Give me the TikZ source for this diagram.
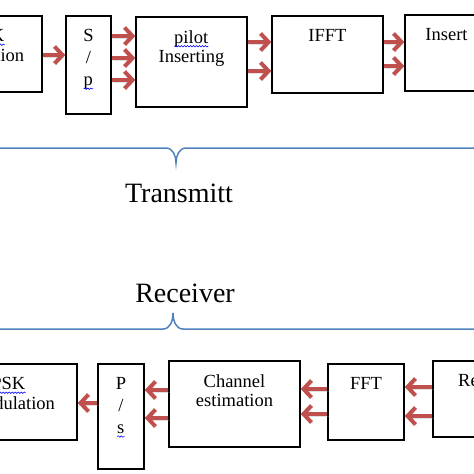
\documentclass[tikz,border=0pt]{standalone}
\usepackage{fontspec}
\setmainfont{Liberation Serif}
\usetikzlibrary{arrows.meta,decorations.pathmorphing}
\definecolor{cred}{RGB}{192,80,77}
\definecolor{cblue}{RGB}{79,129,189}
\newlength{\spellwd}
\newcommand{\spell}[1]{\settowidth{\spellwd}{#1}\rlap{#1}\tikz[baseline=0pt]
  \draw[blue,line width=0.6pt,decorate,decoration={snake,amplitude=0.7pt,segment length=3pt}]
  (0pt,-3pt) -- (\spellwd,-3pt);}

\begin{document}
\begin{tikzpicture}[x=1pt,y=-1pt,
  block/.style={draw,line width=1.5pt,inner sep=0pt},
  boxtext/.style={anchor=north,inner sep=0pt,align=center,yshift=-14pt,
    font=\fontsize{18.5}{19.5}\selectfont},
  arr/.style={-{Straight Barb[length=8pt,width=17pt]},cred,line width=4pt,
    preaction={draw=black!40,opacity=0.3,transform canvas={shift={(1.5pt,-1.8pt)}}}},
  brc/.style={cblue,line width=1.5pt},
  title/.style={font=\fontsize{28}{30}\selectfont}]
  \useasboundingbox (0,0) rectangle (474,474);

  % transmitter
  \node[block,minimum width=122pt,minimum height=76pt] (mod) at (-19,54) {};
  \node[block,minimum width=45pt,minimum height=98pt] (sp) at (88.5,65) {};
  \node[block,minimum width=111pt,minimum height=90pt] (pilot) at (191.5,62) {};
  \node[block,minimum width=111pt,minimum height=77pt] (ifft) at (327.5,54.5) {};
  \node[block,minimum width=83pt,minimum height=76pt] (ins) at (446.5,53) {};
  \node[boxtext] (modt) at (mod.north) {\spell{QPSK}\\Modulation};
  \node[boxtext] (spt) at (sp.north) {S\\[2.5pt]/\\[2.5pt]\spell{p}};
  \node[boxtext] (pilott) at (pilot.north) {\spell{pilot}\\Inserting};
  \node[boxtext] (ifftt) at (ifft.north) {IFFT};
  \node[boxtext] (inst) at (ins.north) {Insert};

  \draw[arr] (mod.east |- 0,55) -- (sp.west |- 0,55);
  \foreach \y in {36,58,80}
    \draw[arr] (sp.east |- 0,\y) -- (pilot.west |- 0,\y);
  \foreach \y in {42,71}
    \draw[arr] (pilot.east |- 0,\y) -- (ifft.west |- 0,\y);
  \foreach \y in {42,66}
    \draw[arr] (ifft.east |- 0,\y) -- (ins.west |- 0,\y);

  % braces
  \draw[brc] (0,148) -- (166,148) .. controls (173,148) and (176,156) .. (176,163)
    .. controls (176,156) and (179,148) .. (186,148) -- (474,148);
  \draw[brc] (0,329) -- (163,329) .. controls (170,329) and (173,321) .. (173,313)
    .. controls (173,321) and (176,329) .. (183,329) -- (474,329);
  \node[title] (tx) at (179,193) {Transmitt};
  \node[title] (rx) at (185,293) {Receiver};

  % receiver
  \node[block,minimum width=150pt,minimum height=76pt] (dem) at (2,402) {};
  \node[block,minimum width=46pt,minimum height=105pt] (ps) at (121,416.5) {};
  \node[block,minimum width=131pt,minimum height=86pt] (chan) at (234.5,404) {};
  \node[block,minimum width=76pt,minimum height=76pt] (fft) at (366,402) {};
  \node[block,minimum width=112pt,minimum height=76pt] (rem) at (489,399) {};
  \node[boxtext] (demt) at (dem.north) {\spell{QPSK}\\Demodulation};
  \node[boxtext] (pst) at (ps.north) {P\\[2.5pt]/\\[2.5pt]\spell{s}};
  \node[boxtext] (chant) at (chan.north) {Channel\\estimation};
  \node[boxtext] (fftt) at (fft.north) {FFT};
  \node[boxtext] (remt) at (rem.north) {Remove};

  \foreach \y in {387,416}
    \draw[arr] (rem.west |- 0,\y) -- (fft.east |- 0,\y);
  \foreach \y in {389,414}
    \draw[arr] (fft.west |- 0,\y) -- (chan.east |- 0,\y);
  \foreach \y in {390,418}
    \draw[arr] (chan.west |- 0,\y) -- (ps.east |- 0,\y);
  \draw[arr] (ps.west |- 0,403) -- (dem.east |- 0,403);
\end{tikzpicture}
\end{document}
